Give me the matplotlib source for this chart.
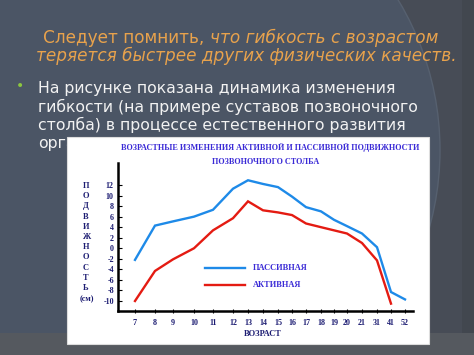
import matplotlib
matplotlib.use("Agg")
import matplotlib.pyplot as plt
from matplotlib.patches import Rectangle, Circle
import numpy as np

W, H = 474, 355

# chart data
ages = ["7", "8", "9", "10", "11", "12", "13", "14", "15", "16", "17", "18", "19", "20", "21", "31", "41", "52"]
passive = [-2.2, 4.3, 5.1, 6.0, 7.3, 11.3, 12.9, 12.2, 11.6, 9.8, 7.8, 7.0, 5.4, 4.2, 2.8, 0.2, -8.3, -9.7]
active = [-10.0, -4.3, -2.1, 0.0, 3.4, 5.7, 8.9, 7.2, 6.8, 6.3, 4.7, 4.0, 3.4, 2.8, 1.0, -2.3, -10.5, np.nan]
y_ticks = [12, 10, 8, 6, 4, 2, 0, -2, -4, -6, -8, -10]

# uneven spacing of the age axis in the original drawing
age_gap = [0, 20, 18, 21, 19, 20, 15, 15, 15, 14, 14, 15, 13, 13, 15, 15, 14, 14]
age_x = np.cumsum(age_gap)

slide_title1 = "Следует помнить, "
slide_title1i = "что гибкость с возрастом"
slide_title2 = "теряется быстрее других физических качеств."
body = ["На рисунке показана динамика изменения",
        "гибкости (на примере суставов позвоночного",
        "столба) в процессе естественного развития",
        "организма"]

def fx(x):
    return x / W

def fy(y):
    return 1 - y / H

fig = plt.figure(figsize=(W / 100, H / 100), dpi=100)
fig.patch.set_facecolor("#474c56")

# slide decoration
bg = fig.add_axes([0, 0, 1, 1])
bg.set_xlim(0, W)
bg.set_ylim(H, 0)
bg.axis("off")
bg.set_zorder(-1)
bg.add_patch(Circle((150, 150), 290, facecolor="#4b5565", edgecolor="#56606f", lw=1.0))
bg.add_patch(Rectangle((462, 0), 12, 333, facecolor="#42474f", edgecolor="none"))
bg.add_patch(Rectangle((0, 333), W, 22, facecolor="#55595f", edgecolor="none"))

orange = "#e8a24c"
tsize = 12.2
t1 = fig.text(fx(43), fy(38), slide_title1, color=orange, fontsize=tsize,
              family="DejaVu Sans", va="center", ha="left", zorder=1)
fig.canvas.draw()
bb = t1.get_window_extent()
fig.text(bb.x1 / W, fy(38), slide_title1i, color=orange, fontsize=tsize, style="italic",
         family="DejaVu Sans", va="center", ha="left", zorder=1)
fig.text(fx(246), fy(56), slide_title2, color=orange, fontsize=tsize, style="italic",
         family="DejaVu Sans", va="center", ha="center", zorder=1)

fig.text(fx(20), fy(86), "•", color="#8cc63f", fontsize=10, va="center", ha="center", zorder=1)
for i, line in enumerate(body):
    fig.text(fx(38), fy(88 + i * 18.5), line, color="#f2f2f2", fontsize=11.3,
             family="DejaVu Sans", va="center", ha="left", zorder=1)

# white picture box
fig.patches.append(Rectangle((fx(67), fy(344)), fx(429 - 67), (344 - 137) / H,
                             transform=fig.transFigure, facecolor="white",
                             edgecolor="#dddddd", lw=0.8, zorder=2))

navy = "#1c1c72"
violet = "#3a2ad6"
serif = "Liberation Serif"

ax = fig.add_axes([fx(118), fy(311), fx(413 - 118), (311 - 163) / H])
ax.set_zorder(3)
ax.patch.set_alpha(0)
ax.plot(age_x, passive, color="#1e8ae8", lw=1.7, solid_joinstyle="miter")
ax.plot(age_x, active, color="#e41b12", lw=1.7, solid_joinstyle="miter")

y_top = 12 + (185 - 163) / 5.27
y_bot = -10 - (311 - 301) / 5.27
ax.set_ylim(y_bot, y_top)
ax.set_xlim(age_x[0] - 17, age_x[-1] + 8)

for s in ["top", "right"]:
    ax.spines[s].set_visible(False)
ax.spines["left"].set_linewidth(1.8)
ax.spines["bottom"].set_linewidth(1.8)
ax.set_yticks(y_ticks)
ax.set_yticklabels([str(v) for v in y_ticks])
ax.set_xticks(age_x)
ax.set_xticklabels(ages)
ax.tick_params(axis="y", direction="in", length=3, width=0.8, pad=3,
               labelsize=5.8, labelcolor=navy)
ax.tick_params(axis="x", direction="inout", length=3, width=0.8, pad=4,
               labelsize=5.8, labelcolor=navy)
for lab in ax.get_xticklabels() + ax.get_yticklabels():
    lab.set_family(serif)
    lab.set_fontweight("bold")

# legend drawn inside the plot
leg_x0 = (205 - 118) / (413 - 118)
leg_x1 = (245 - 118) / (413 - 118)
ax.plot([leg_x0, leg_x1], [(311 - 268) / (311 - 163)] * 2, transform=ax.transAxes,
        color="#1e8ae8", lw=1.7)
ax.plot([leg_x0, leg_x1], [(311 - 285) / (311 - 163)] * 2, transform=ax.transAxes,
        color="#e41b12", lw=1.7)
fig.text(fx(253), fy(268), "ПАССИВНАЯ", color=violet, fontsize=6, family=serif,
         fontweight="bold", va="center", ha="left", zorder=4)
fig.text(fx(253), fy(285), "АКТИВНАЯ", color=violet, fontsize=6, family=serif,
         fontweight="bold", va="center", ha="left", zorder=4)

# chart titles
fig.text(fx(270), fy(147), "ВОЗРАСТНЫЕ ИЗМЕНЕНИЯ АКТИВНОЙ И ПАССИВНОЙ ПОДВИЖНОСТИ",
         color=violet, fontsize=5.9, family=serif, fontweight="bold",
         va="center", ha="center", zorder=4)
fig.text(fx(266), fy(162), "ПОЗВОНОЧНОГО СТОЛБА", color=violet, fontsize=5.9,
         family=serif, fontweight="bold", va="center", ha="center", zorder=4)

for i, ch in enumerate("ПОДВИЖНОСТЬ"):
    fig.text(fx(86), fy(186 + i * 10.2), ch, color=navy, fontsize=6, family=serif,
             fontweight="bold", va="center", ha="center", zorder=4)
fig.text(fx(87), fy(299), "(см)", color=navy, fontsize=5.8, family=serif,
         fontweight="bold", va="center", ha="center", zorder=4)
fig.text(fx(263), fy(334), "ВОЗРАСТ", color=navy, fontsize=6, family=serif,
         fontweight="bold", va="center", ha="center", zorder=4)

fig.savefig("out.png", dpi=100)
